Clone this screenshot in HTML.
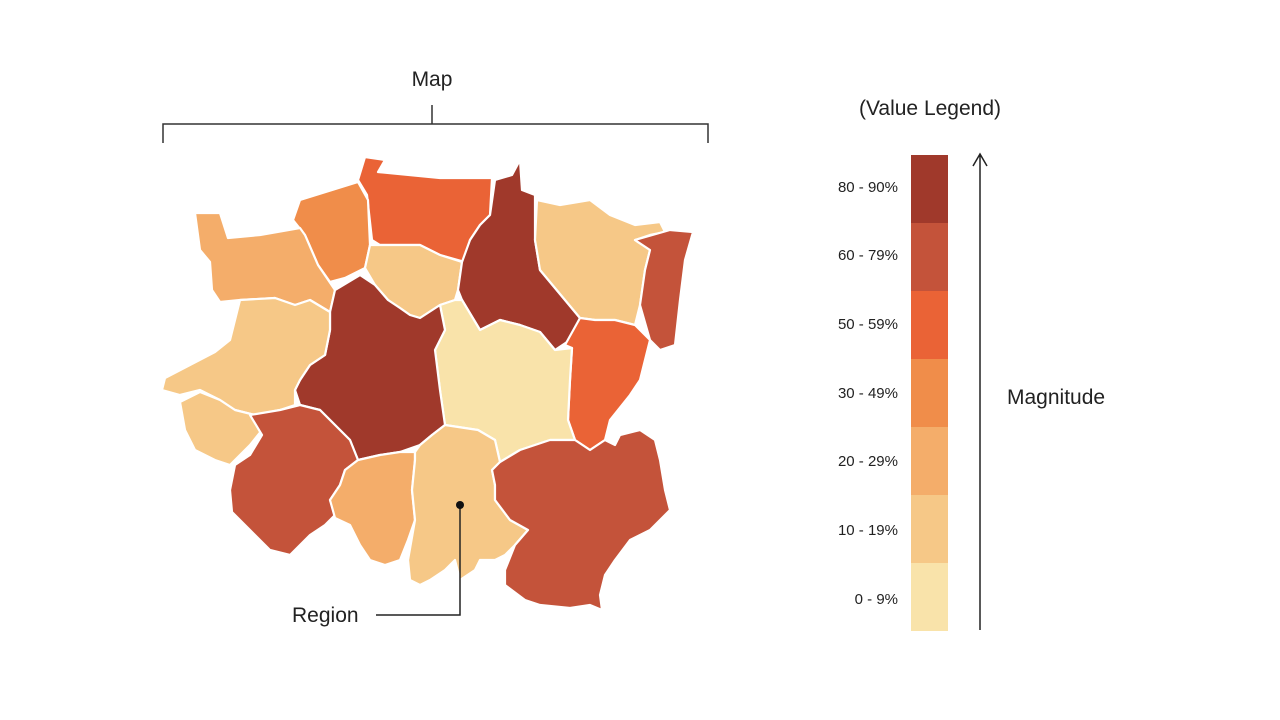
<!DOCTYPE html>
<html><head><meta charset="utf-8"><style>
html,body{margin:0;padding:0;background:#fff;}
svg{display:block;}
text{font-family:"Liberation Sans",sans-serif;fill:#222;}
</style></head><body>
<svg width="1280" height="720" viewBox="0 0 1280 720" xmlns="http://www.w3.org/2000/svg">
<text x="432" y="86" font-size="21" text-anchor="middle">Map</text>
<path d="M163,143 V124 H708 V143 M432,124 V105" fill="none" stroke="#333" stroke-width="1.5"/>
<g stroke="#fff" stroke-width="2.2" stroke-linejoin="round">
<polygon fill="#EA6336" points="365,157 385,160 378,172 440,178 492,178 490,215 480,225 470,240 465,262 440,255 420,245 380,245 372,240 367,195 358,180"/>
<polygon fill="#F08D4A" points="293,220 300,200 358,182 368,200 370,245 365,268 345,278 330,282 318,265 305,235"/>
<polygon fill="#F4AD6A" points="195,213 220,213 228,238 260,235 300,228 305,235 318,265 335,290 330,312 310,300 295,305 275,298 240,300 220,302 212,290 210,262 200,250"/>
<polygon fill="#F6C887" points="370,245 420,245 440,255 462,262 458,290 455,300 440,305 420,318 410,315 400,308 388,300 375,285 365,268"/>
<polygon fill="#A0392B" points="495,180 512,175 520,160 522,190 535,195 535,240 540,270 565,300 580,318 570,340 555,350 540,332 520,325 500,320 480,330 462,300 458,290 462,262 470,240 480,225 490,215"/>
<polygon fill="#F6C887" points="537,200 560,205 590,200 610,215 635,225 660,222 665,232 650,235 635,240 650,250 645,270 640,305 635,325 615,320 595,320 580,318 565,300 540,270 535,240"/>
<polygon fill="#C4533A" points="635,240 670,230 693,232 685,260 680,300 675,345 660,350 650,340 640,305 645,270 650,250"/>
<polygon fill="#EA6336" points="580,318 595,320 615,320 635,325 650,340 645,360 640,380 630,395 610,420 605,440 590,450 575,440 568,420 570,380 572,348 565,345"/>
<polygon fill="#F9E3AA" points="440,305 455,300 462,300 480,330 500,320 520,325 540,332 555,350 572,348 570,380 568,420 575,440 550,440 520,450 500,462 495,440 478,430 445,425 440,390 435,350 445,330"/>
<polygon fill="#A0392B" points="335,290 360,275 375,285 388,300 400,308 410,315 420,318 440,305 445,330 435,350 440,390 445,425 432,435 420,445 400,452 380,455 358,460 350,440 340,430 320,410 300,405 295,390 300,380 310,365 325,355 330,330 330,312"/>
<polygon fill="#F6C887" points="240,300 275,298 295,305 310,300 330,312 330,330 325,355 310,365 300,380 295,390 295,405 280,410 255,415 235,410 220,400 200,390 180,395 162,390 165,378 190,365 215,352 230,340 235,320"/>
<polygon fill="#F6C887" points="180,402 200,392 220,400 235,410 255,415 262,430 250,445 240,455 230,465 215,460 195,450 185,430"/>
<polygon fill="#C4533A" points="250,415 280,410 300,405 320,410 340,430 350,440 358,460 345,470 340,485 330,500 335,515 325,525 310,535 300,545 290,555 270,550 250,530 232,512 230,490 235,465 250,455 262,435"/>
<polygon fill="#F4AD6A" points="358,460 380,455 400,452 415,452 415,460 412,490 415,520 408,540 400,560 385,565 370,560 360,545 350,525 335,518 330,500 340,485 345,470"/>
<polygon fill="#F6C887" points="415,452 420,445 432,435 445,425 478,430 495,440 500,462 492,470 495,485 495,500 510,520 528,530 515,545 505,555 495,560 480,560 475,570 460,580 455,560 445,570 430,580 420,585 410,580 408,560 415,520 412,490 415,460"/>
<polygon fill="#C4533A" points="492,470 500,462 520,450 550,440 575,440 590,450 605,440 615,445 620,435 640,430 655,440 660,460 665,490 670,510 660,520 650,530 630,540 615,560 605,575 600,595 602,610 590,605 570,608 540,605 525,600 505,585 505,570 515,545 528,530 510,520 495,500 495,485"/>
</g>
<path d="M376,615 H460 V505" fill="none" stroke="#222" stroke-width="1.5"/>
<circle cx="460" cy="505" r="4" fill="#111"/>
<text x="292" y="622" font-size="21">Region</text>
<text x="930" y="115" font-size="21" text-anchor="middle">(Value Legend)</text>
<rect x="911" y="155" width="37" height="68" fill="#A0392B"/>
<rect x="911" y="223" width="37" height="68" fill="#C4533A"/>
<rect x="911" y="291" width="37" height="68" fill="#EA6336"/>
<rect x="911" y="359" width="37" height="68" fill="#F08D4A"/>
<rect x="911" y="427" width="37" height="68" fill="#F4AD6A"/>
<rect x="911" y="495" width="37" height="68" fill="#F6C887"/>
<rect x="911" y="563" width="37" height="68" fill="#F9E3AA"/>
<g font-size="15" text-anchor="end">
<text x="898" y="192">80 - 90%</text>
<text x="898" y="260">60 - 79%</text>
<text x="898" y="329">50 - 59%</text>
<text x="898" y="398">30 - 49%</text>
<text x="898" y="466">20 - 29%</text>
<text x="898" y="535">10 - 19%</text>
<text x="898" y="604">0 - 9%</text>
</g>
<path d="M980,630 V154 M973,166 L980,154 L987,166" fill="none" stroke="#222" stroke-width="1.5"/>
<text x="1007" y="404" font-size="21">Magnitude</text>
</svg>
</body></html>
